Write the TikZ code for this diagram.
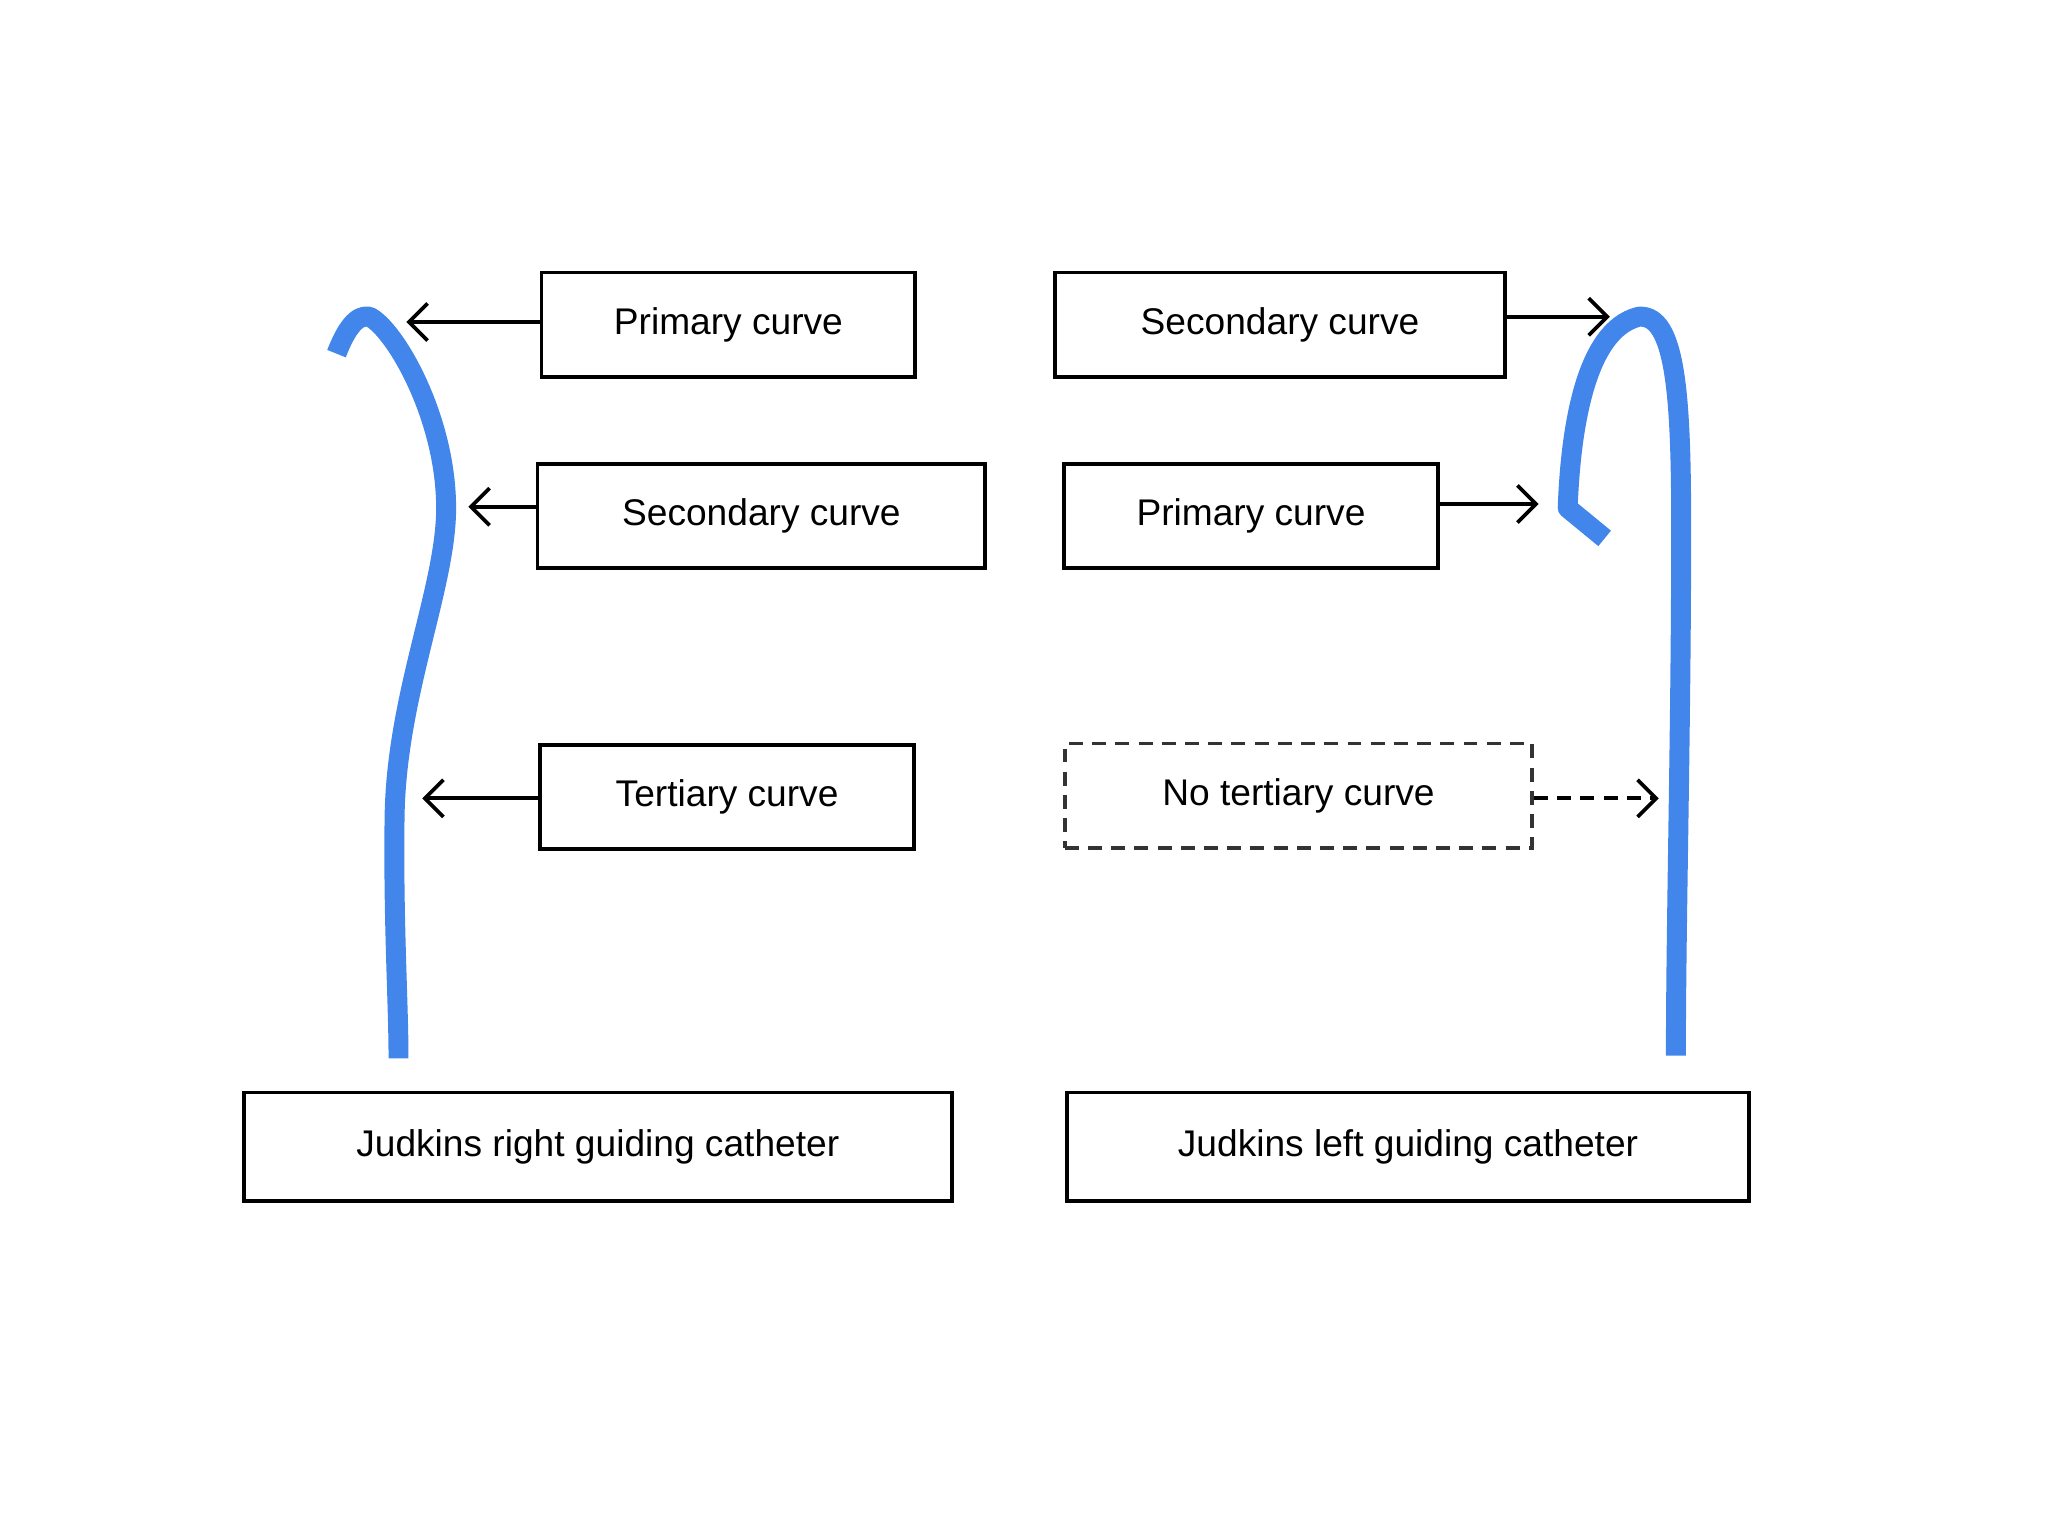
\documentclass[tikz,border=0pt]{standalone}
\usepackage{fontspec}
\setmainfont{Liberation Sans}
\usetikzlibrary{arrows.meta}
\definecolor{Cath}{RGB}{66,133,235}
\begin{document}
\begin{tikzpicture}[
  x=0.01cm, y=-0.01cm,
  label box/.style = {draw,thick,minimum height=0.79cm,font=\fontsize{8}{10}\selectfont},
  pointer/.style = {thick,-{Straight Barb[length=4pt,width=8pt]}},
  catheter/.style = {line width=4.3pt,Cath,line cap=butt,line join=round}
  ]
  \useasboundingbox (0,0) rectangle (1552,1164);
  % right guiding catheter
  \draw[catheter] (255,268) .. controls (262,250) and (270,238) .. (280,240)
    .. controls (300,250) and (340,320) .. (338,390)
    .. controls (336,450) and (300,530) .. (299,620)
    .. controls (298,700) and (302,760) .. (302,802);
  % left guiding catheter
  \draw[catheter] (1216,408) -- (1188,385)
    .. controls (1190,330) and (1200,250) .. (1242,240)
    .. controls (1270,238) and (1274,300) .. (1274,400)
    .. controls (1274,550) and (1270,700) .. (1270,800);
  % labels
  \node[label box,minimum width=2.83cm] (RP) at (552,246) {Primary curve};
  \node[label box,minimum width=3.39cm] (RS) at (577,391) {Secondary curve};
  \node[label box,minimum width=2.83cm] (RT) at (551,604) {Tertiary curve};
  \node[label box,minimum width=3.41cm] (LS) at (970,246) {Secondary curve};
  \node[label box,minimum width=2.83cm] (LP) at (948,391) {Primary curve};
  \node[label box,densely dashed,draw=black!80,minimum width=3.54cm] (LT) at (984,603) {No tertiary curve};
  \node[label box,minimum width=5.36cm,minimum height=0.82cm] (JR) at (453,869) {Judkins right guiding catheter};
  \node[label box,minimum width=5.17cm,minimum height=0.82cm] (JL) at (1067,869) {Judkins left guiding catheter};
  % pointers
  \coordinate (rp) at (308,244);
  \coordinate (rs) at (355,384);
  \coordinate (rt) at (320,605);
  \coordinate (ls) at (1220,240);
  \coordinate (lp) at (1166,382);
  \coordinate (lt) at (1257,605);
  \draw[pointer] (RP.west |- rp) -- (rp);
  \draw[pointer] (RS.west |- rs) -- (rs);
  \draw[pointer] (RT.west |- rt) -- (rt);
  \draw[pointer] (LS.east |- ls) -- (ls);
  \draw[pointer] (LP.east |- lp) -- (lp);
  \draw[pointer,densely dashed] (LT.east |- lt) -- (lt);
\end{tikzpicture}
\end{document}
